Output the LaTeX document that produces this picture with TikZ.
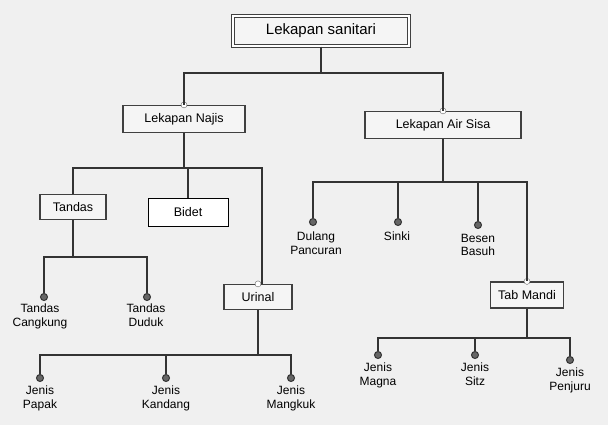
\documentclass[tikz,border=0pt]{standalone}
\usepackage{fontspec}
\setmainfont{Liberation Sans}
\begin{document}
\begin{tikzpicture}[x=1pt,y=-1pt,
  box/.style={draw=black!75,line width=1.2pt,fill=white!92!gray,inner sep=0pt,font=\fontsize{12.5}{14}\selectfont},
  leaf/.style={align=center,font=\fontsize{12}{13.5}\selectfont,inner sep=0pt},
  dot/.style={circle,draw=black!80,fill=black!60,minimum size=7pt,inner sep=0pt,line width=1pt},
  ln/.style={line width=1.4pt,black!80}]
\fill[black!6] (0,0) rectangle (608,425);
\useasboundingbox (0,0) rectangle (608,425);
% nodes
\node[box,double,double distance=1.5pt,minimum width=176pt,minimum height=30pt,font=\fontsize{15}{17}\selectfont] (san) at (321,31) {Lekapan sanitari};
\node[box,minimum width=122pt,minimum height=27pt] (naj) at (184,119) {Lekapan Najis};
\node[box,minimum width=156pt,minimum height=27pt] (air) at (443,125) {Lekapan Air Sisa};
\node[box,minimum width=66pt,minimum height=25pt] (tan) at (73,207) {Tandas};
\node[draw=black,line width=0.6pt,fill=white,minimum width=80pt,minimum height=28pt,inner sep=0pt,font=\fontsize{12.5}{14}\selectfont] (bid) at (188,212) {Bidet};
\node[box,minimum width=68pt,minimum height=25pt] (uri) at (258,297) {Urinal};
\node[box,minimum width=73pt,minimum height=26pt] (tab) at (527,295) {Tab Mandi};
% dots
\foreach \n/\x/\y in {d1/313/222,d2/398/222,d3/478/225,d4/44/297,d5/147/297,d6/40/378,d7/166/378,d8/291/378,d9/378/355,d10/475/355,d11/570/360}
  \node[dot] (\n) at (\x,\y) {};
\node[leaf,anchor=north] (t1) at (316,232) {Dulang\\Pancuran};
\node[leaf,anchor=north] (t2) at (397,232) {Sinki};
\node[leaf,anchor=north] (t3) at (478,234) {Besen\\Basuh};
\node[leaf,anchor=north] (t4) at (40,304) {Tandas\\Cangkung};
\node[leaf,anchor=north] (t5) at (146,304) {Tandas\\Duduk};
\node[leaf,anchor=north] (t6) at (40,386) {Jenis\\Papak};
\node[leaf,anchor=north] (t7) at (166,386) {Jenis\\Kandang};
\node[leaf,anchor=north] (t8) at (291,386) {Jenis\\Mangkuk};
\node[leaf,anchor=north] (t9) at (378,363) {Jenis\\Magna};
\node[leaf,anchor=north] (t10) at (475,363) {Jenis\\Sitz};
\node[leaf,anchor=north] (t11) at (570,368) {Jenis\\Penjuru};
% small circles on box tops
\foreach \n in {naj,air,uri,tab} \node[circle,draw=black!60,fill=white,minimum size=6pt,inner sep=0pt] at (\n.north) {};
% connectors
\coordinate (j1) at (321,73);
\draw[ln] (san.south) -- (j1);
\draw[ln] (naj.north) -- (184,73) -- (443,73) -- (air.north);
\coordinate (j2) at (184,168);
\draw[ln] (naj.south) -- (j2);
\draw[ln] (tan.north) -- (73,168) -- (262,168) -- (262,284);
\draw[ln] (188,168) -- (bid.north);
\draw[ln] (tan.south) -- (73,257);
\draw[ln] (d4) -- (44,257) -- (147,257) -- (d5);
\draw[ln] (uri.south) -- (258,355);
\draw[ln] (d6) -- (40,355) -- (291,355) -- (d8);
\draw[ln] (166,355) -- (d7);
\draw[ln] (air.south) -- (443,182);
\draw[ln] (d1) -- (313,182) -- (527,182) -- (tab.north);
\draw[ln] (398,182) -- (d2);
\draw[ln] (478,182) -- (d3);
\draw[ln] (tab.south) -- (527,338);
\draw[ln] (d9) -- (378,338) -- (570,338) -- (d11);
\draw[ln] (475,338) -- (d10);
\end{tikzpicture}
\end{document}
